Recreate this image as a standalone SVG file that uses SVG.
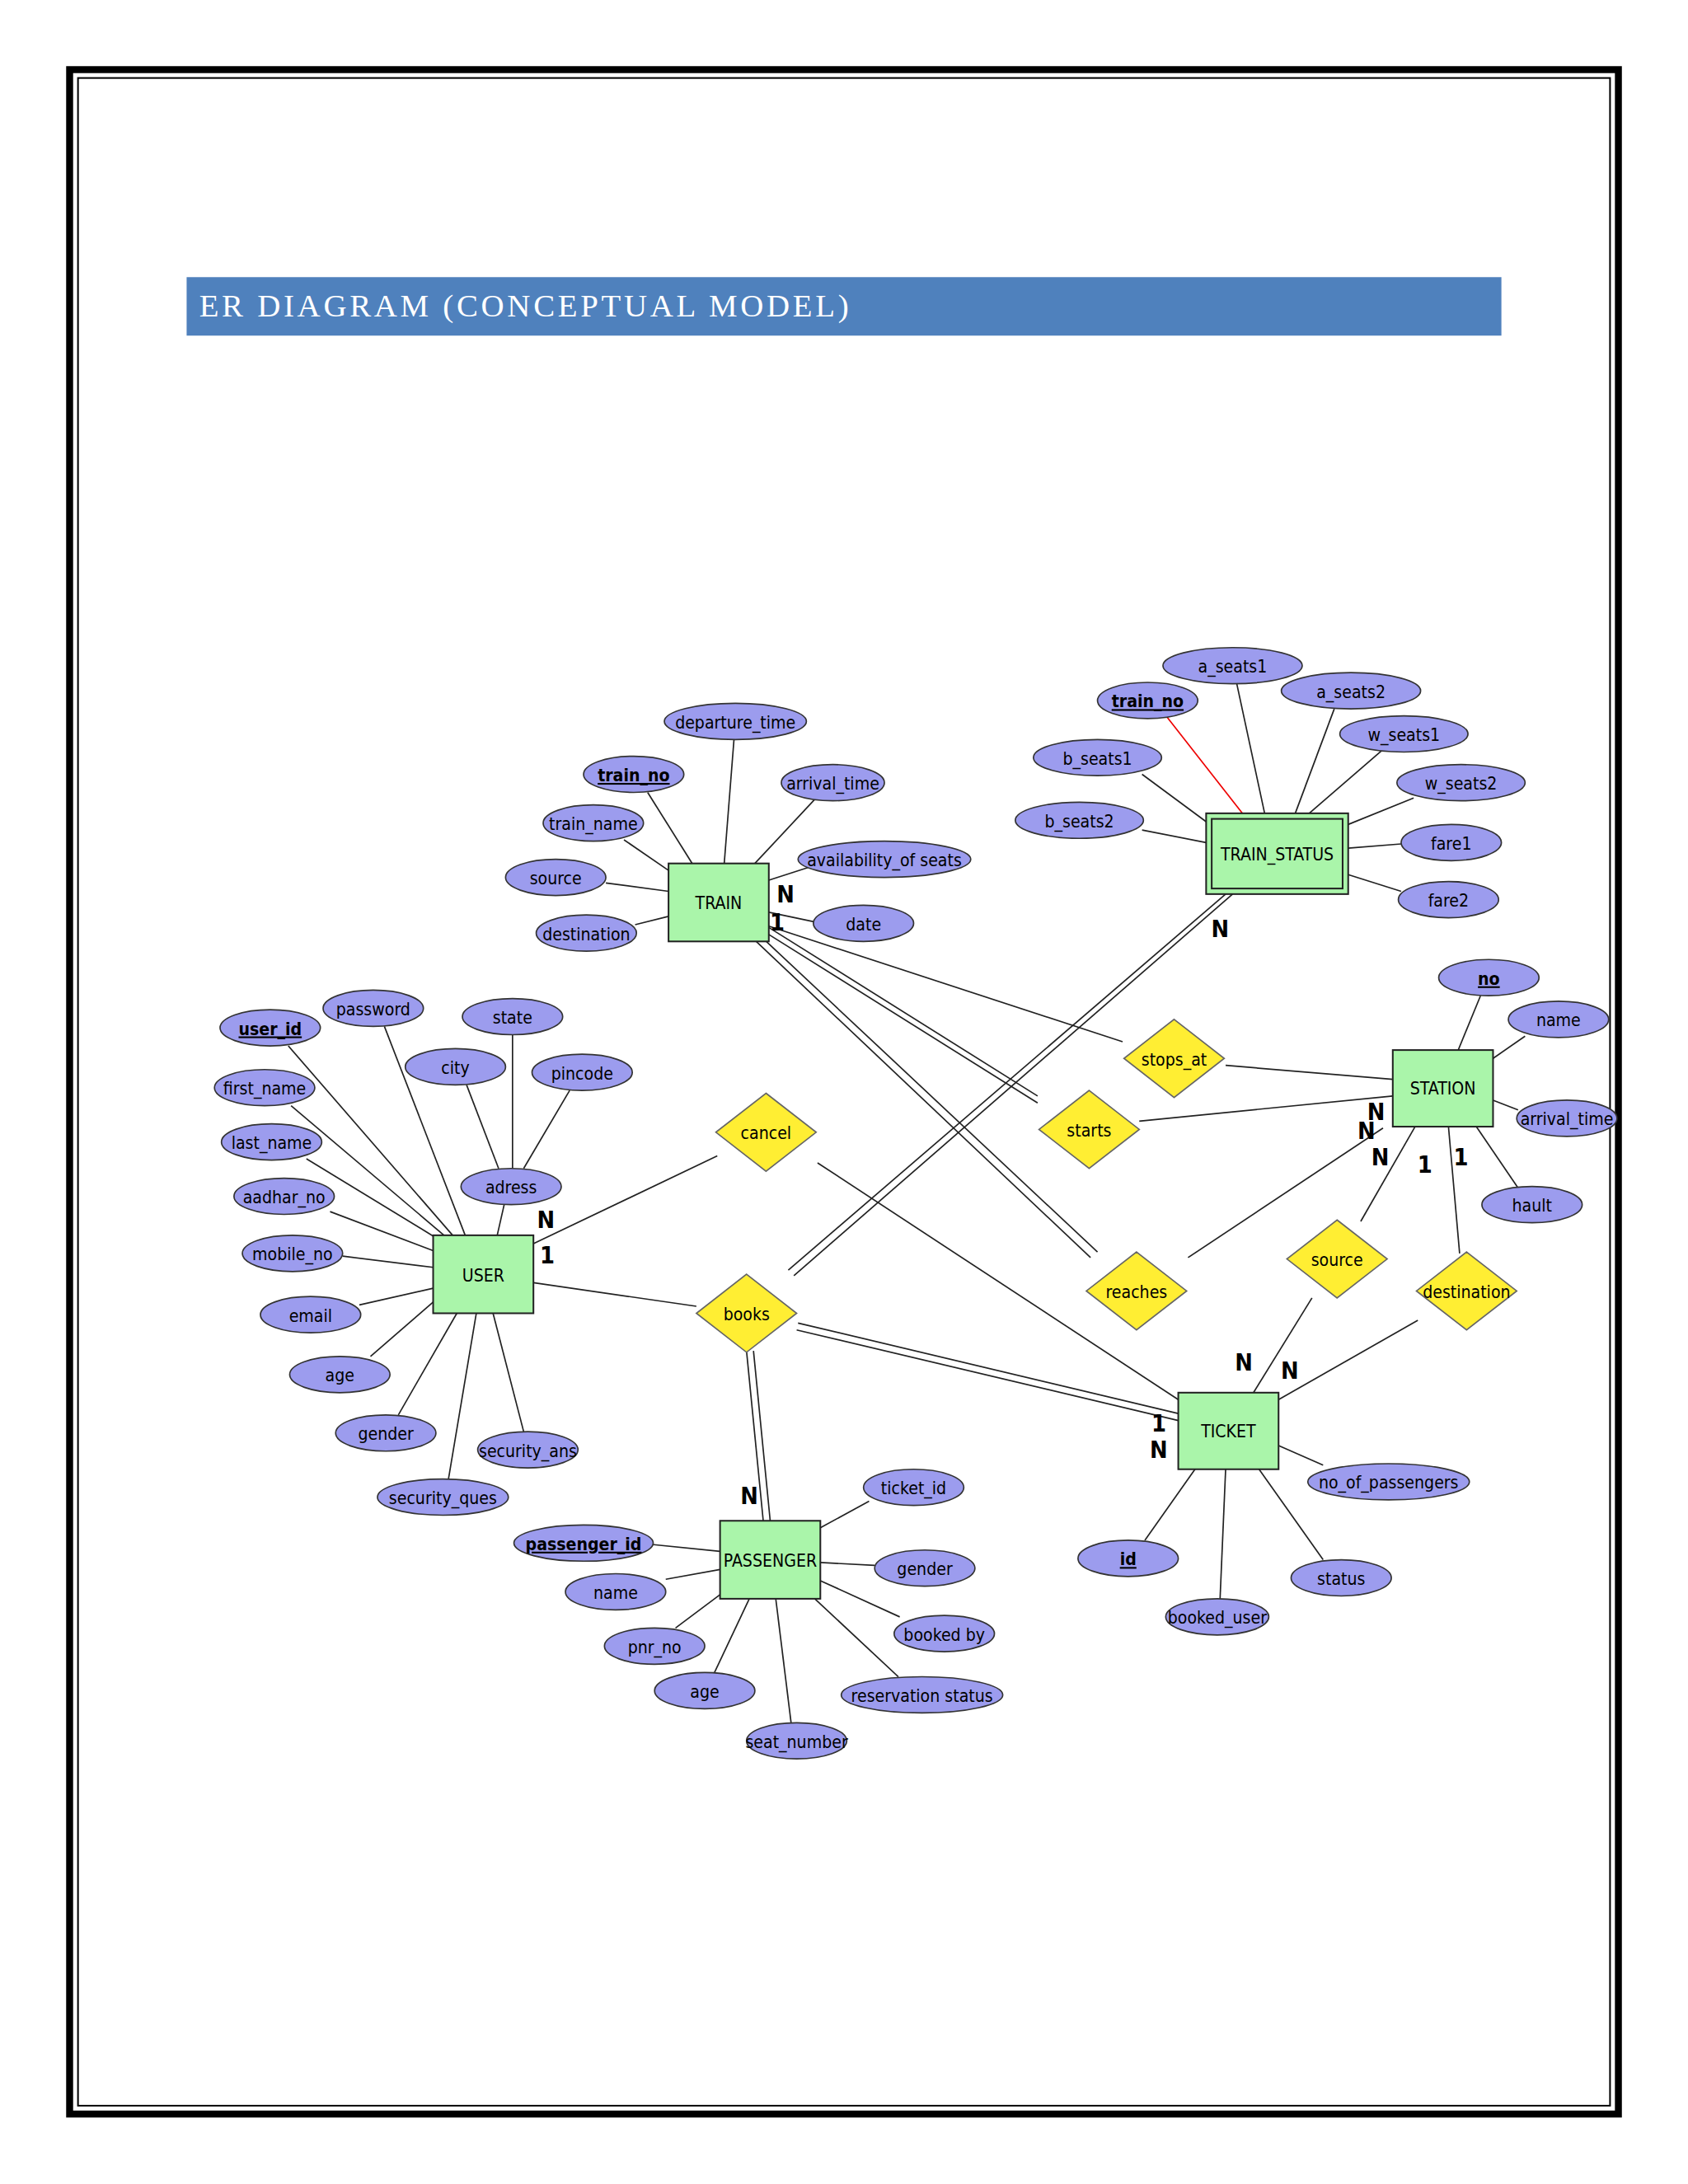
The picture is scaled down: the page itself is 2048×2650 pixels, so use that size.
<svg xmlns="http://www.w3.org/2000/svg" width="2048" height="2650" viewBox="0 0 2048 2650">
<style>
text{font-family:"DejaVu Sans Condensed","Liberation Sans Narrow","Liberation Sans",sans-serif;font-size:12.5px;text-anchor:middle;fill:#000}
.a ellipse{fill:#9C9CEE;stroke:#333;stroke-width:1}
.k text{font-weight:bold;text-decoration:underline}
.e rect{fill:#AAF5AA;stroke:#222;stroke-width:1.2}
.r polygon{fill:#FFEE33;stroke:#666;stroke-width:1}
.l line{stroke:#222;stroke-width:1}
.c text{font-weight:bold;font-size:17px;font-family:"DejaVu Sans Condensed","Liberation Sans",sans-serif}
</style>
<rect width="2048" height="2650" fill="#fff"/>
<g transform="scale(1.6898)">
<rect x="50" y="50" width="1112" height="1468" fill="none" stroke="#000" stroke-width="5"/>
<rect x="56" y="56" width="1100" height="1456" fill="none" stroke="#000" stroke-width="1.2"/>
<rect x="134" y="199" width="944" height="42" fill="#4F81BD"/>
<text x="143" y="227" style="font-family:'Liberation Serif',serif;font-size:23px;fill:#fff;text-anchor:start;letter-spacing:2.2px">ER DIAGRAM (CONCEPTUAL MODEL)</text>

<g id="connectors" class="l">
<line x1="520" y1="620" x2="527" y2="531"/><line x1="497" y1="620" x2="465" y2="569"/><line x1="542" y1="620" x2="585" y2="574"/>
<line x1="480" y1="625" x2="448" y2="603"/><line x1="552" y1="632" x2="580" y2="623"/><line x1="480" y1="640" x2="435" y2="634"/>
<line x1="552" y1="655" x2="585" y2="662"/><line x1="480" y1="658" x2="456" y2="664"/>
<line x1="908" y1="584" x2="888" y2="491"/><line x1="930" y1="584" x2="958" y2="509"/><line x1="892" y1="584" x2="838" y2="515" style="stroke:#e00"/>
<line x1="940" y1="584" x2="992" y2="539"/><line x1="866" y1="590" x2="820" y2="556"/><line x1="968" y1="592" x2="1015" y2="573"/>
<line x1="866" y1="605" x2="820" y2="596"/><line x1="968" y1="609" x2="1006" y2="606"/><line x1="968" y1="628" x2="1006" y2="640"/>
<line x1="1047" y1="754" x2="1063" y2="715"/><line x1="1072" y1="760" x2="1095" y2="744"/><line x1="1072" y1="790" x2="1090" y2="797"/><line x1="1060" y1="809" x2="1090" y2="853"/>
<line x1="334" y1="887" x2="276" y2="737"/><line x1="325" y1="887" x2="207" y2="751"/><line x1="320" y1="888" x2="209" y2="794"/>
<line x1="315" y1="890" x2="220" y2="832"/><line x1="311" y1="898" x2="237" y2="870"/><line x1="311" y1="910" x2="246" y2="902"/>
<line x1="311" y1="925" x2="258" y2="937"/><line x1="311" y1="935" x2="266" y2="974"/><line x1="328" y1="943" x2="286" y2="1016"/>
<line x1="342" y1="943" x2="322" y2="1062"/><line x1="354" y1="943" x2="376" y2="1028"/><line x1="357" y1="887" x2="362" y2="865"/>
<line x1="368" y1="743" x2="368" y2="839"/><line x1="335" y1="779" x2="358" y2="839"/><line x1="409" y1="783" x2="376" y2="839"/>
<line x1="918" y1="1038" x2="950" y2="1052"/><line x1="858" y1="1055" x2="822" y2="1106"/><line x1="880" y1="1055" x2="876" y2="1148"/><line x1="904" y1="1055" x2="950" y2="1120"/>
<line x1="589" y1="1097" x2="624" y2="1078"/><line x1="517" y1="1114" x2="468" y2="1109"/><line x1="589" y1="1122" x2="628" y2="1124"/>
<line x1="517" y1="1127" x2="478" y2="1134"/><line x1="589" y1="1135" x2="646" y2="1161"/><line x1="517" y1="1145" x2="485" y2="1169"/>
<line x1="585" y1="1148" x2="645" y2="1204"/><line x1="538" y1="1148" x2="513" y2="1201"/><line x1="557" y1="1148" x2="568" y2="1237"/>
<line x1="552" y1="665" x2="806" y2="748"/><line x1="880" y1="765" x2="1000" y2="775"/>
<line x1="552" y1="666" x2="745" y2="787"/><line x1="552" y1="671" x2="745" y2="792"/><line x1="818" y1="805" x2="1000" y2="787"/>
<line x1="543" y1="676" x2="783" y2="903"/><line x1="548" y1="674" x2="788" y2="899"/><line x1="853" y1="903" x2="993" y2="810"/>
<line x1="880" y1="642" x2="566" y2="912"/><line x1="885" y1="642" x2="570" y2="916"/>
<line x1="383" y1="893" x2="515" y2="830"/><line x1="587" y1="835" x2="846" y2="1005"/>
<line x1="383" y1="921" x2="500" y2="938"/>
<line x1="573" y1="950" x2="846" y2="1015"/><line x1="572" y1="955" x2="846" y2="1020"/>
<line x1="536" y1="970" x2="548" y2="1092"/><line x1="541" y1="970" x2="553" y2="1092"/>
<line x1="977" y1="877" x2="1016" y2="809"/><line x1="942" y1="932" x2="900" y2="1000"/>
<line x1="1048" y1="900" x2="1040" y2="809"/><line x1="1018" y1="948" x2="918" y2="1005"/>
</g>

<g class="e">
<g id="TRAIN"><rect x="480" y="620" width="72" height="56"/><text x="516" y="653">TRAIN</text></g>
<g id="TRAIN_STATUS"><rect x="866" y="584" width="102" height="58"/><rect x="870" y="588" width="94" height="50"/><text x="917" y="618">TRAIN_STATUS</text></g>
<g id="STATION"><rect x="1000" y="754" width="72" height="55"/><text x="1036" y="786">STATION</text></g>
<g id="USER"><rect x="311" y="887" width="72" height="56"/><text x="347" y="920">USER</text></g>
<g id="TICKET"><rect x="846" y="1000" width="72" height="55"/><text x="882" y="1032">TICKET</text></g>
<g id="PASSENGER"><rect x="517" y="1092" width="72" height="56"/><text x="553" y="1125">PASSENGER</text></g>
</g>

<g class="r">
<g id="stops_at"><polygon points="843,732 879,760 843,788 807,760"/><text x="843" y="765">stops_at</text></g>
<g id="starts"><polygon points="782,783 818,811 782,839 746,811"/><text x="782" y="816">starts</text></g>
<g id="cancel"><polygon points="550,785 586,813 550,841 514,813"/><text x="550" y="818">cancel</text></g>
<g id="reaches"><polygon points="816,899 852,927 816,955 780,927"/><text x="816" y="932">reaches</text></g>
<g id="source"><polygon points="960,876 996,904 960,932 924,904"/><text x="960" y="909">source</text></g>
<g id="destination"><polygon points="1053,899 1089,927 1053,955 1017,927"/><text x="1053" y="932">destination</text></g>
<g id="books"><polygon points="536,915 572,943 536,971 500,943"/><text x="536" y="948">books</text></g>
</g>

<g class="a">
<g id="a_departure_time"><ellipse cx="528" cy="518" rx="51" ry="13"/><text x="528" y="523">departure_time</text></g>
<g id="a_train_no1" class="k"><ellipse cx="455" cy="556" rx="36" ry="13"/><text x="455" y="561">train_no</text></g>
<g id="a_arrival_time"><ellipse cx="598" cy="562" rx="37" ry="13"/><text x="598" y="567">arrival_time</text></g>
<g id="a_train_name"><ellipse cx="426" cy="591" rx="36" ry="13"/><text x="426" y="596">train_name</text></g>
<g id="a_avail"><ellipse cx="635" cy="617" rx="62" ry="13"/><text x="635" y="622">availability_of seats</text></g>
<g id="a_source"><ellipse cx="399" cy="630" rx="36" ry="13"/><text x="399" y="635">source</text></g>
<g id="a_date"><ellipse cx="620" cy="663" rx="36" ry="13"/><text x="620" y="668">date</text></g>
<g id="a_destination"><ellipse cx="421" cy="670" rx="36" ry="13"/><text x="421" y="675">destination</text></g>

<g id="a_a_seats1"><ellipse cx="885" cy="478" rx="50" ry="13"/><text x="885" y="483">a_seats1</text></g>
<g id="a_a_seats2"><ellipse cx="970" cy="496" rx="50" ry="13"/><text x="970" y="501">a_seats2</text></g>
<g id="a_train_no2" class="k"><ellipse cx="824" cy="503" rx="36" ry="13"/><text x="824" y="508">train_no</text></g>
<g id="a_w_seats1"><ellipse cx="1008" cy="527" rx="46" ry="13"/><text x="1008" y="532">w_seats1</text></g>
<g id="a_b_seats1"><ellipse cx="788" cy="544" rx="46" ry="13"/><text x="788" y="549">b_seats1</text></g>
<g id="a_w_seats2"><ellipse cx="1049" cy="562" rx="46" ry="13"/><text x="1049" y="567">w_seats2</text></g>
<g id="a_b_seats2"><ellipse cx="775" cy="589" rx="46" ry="13"/><text x="775" y="594">b_seats2</text></g>
<g id="a_fare1"><ellipse cx="1042" cy="605" rx="36" ry="13"/><text x="1042" y="610">fare1</text></g>
<g id="a_fare2"><ellipse cx="1040" cy="646" rx="36" ry="13"/><text x="1040" y="651">fare2</text></g>

<g id="a_no" class="k"><ellipse cx="1069" cy="702" rx="36" ry="13"/><text x="1069" y="707">no</text></g>
<g id="a_name_st"><ellipse cx="1119" cy="732" rx="36" ry="13"/><text x="1119" y="737">name</text></g>
<g id="a_arrival_st"><ellipse cx="1125" cy="803" rx="36" ry="13"/><text x="1125" y="808">arrival_time</text></g>
<g id="a_hault"><ellipse cx="1100" cy="865" rx="36" ry="13"/><text x="1100" y="870">hault</text></g>

<g id="a_password"><ellipse cx="268" cy="724" rx="36" ry="13"/><text x="268" y="729">password</text></g>
<g id="a_user_id" class="k"><ellipse cx="194" cy="738" rx="36" ry="13"/><text x="194" y="743">user_id</text></g>
<g id="a_state"><ellipse cx="368" cy="730" rx="36" ry="13"/><text x="368" y="735">state</text></g>
<g id="a_city"><ellipse cx="327" cy="766" rx="36" ry="13"/><text x="327" y="771">city</text></g>
<g id="a_pincode"><ellipse cx="418" cy="770" rx="36" ry="13"/><text x="418" y="775">pincode</text></g>
<g id="a_first_name"><ellipse cx="190" cy="781" rx="36" ry="13"/><text x="190" y="786">first_name</text></g>
<g id="a_last_name"><ellipse cx="195" cy="820" rx="36" ry="13"/><text x="195" y="825">last_name</text></g>
<g id="a_adress"><ellipse cx="367" cy="852" rx="36" ry="13"/><text x="367" y="857">adress</text></g>
<g id="a_aadhar"><ellipse cx="204" cy="859" rx="36" ry="13"/><text x="204" y="864">aadhar_no</text></g>
<g id="a_mobile"><ellipse cx="210" cy="900" rx="36" ry="13"/><text x="210" y="905">mobile_no</text></g>
<g id="a_email"><ellipse cx="223" cy="944" rx="36" ry="13"/><text x="223" y="949">email</text></g>
<g id="a_age_u"><ellipse cx="244" cy="987" rx="36" ry="13"/><text x="244" y="992">age</text></g>
<g id="a_gender_u"><ellipse cx="277" cy="1029" rx="36" ry="13"/><text x="277" y="1034">gender</text></g>
<g id="a_sec_ans"><ellipse cx="379" cy="1041" rx="36" ry="13"/><text x="379" y="1046">security_ans</text></g>
<g id="a_sec_ques"><ellipse cx="318" cy="1075" rx="47" ry="13"/><text x="318" y="1080">security_ques</text></g>

<g id="a_nop"><ellipse cx="997" cy="1064" rx="58" ry="13"/><text x="997" y="1069">no_of_passengers</text></g>
<g id="a_id" class="k"><ellipse cx="810" cy="1119" rx="36" ry="13"/><text x="810" y="1124">id</text></g>
<g id="a_status"><ellipse cx="963" cy="1133" rx="36" ry="13"/><text x="963" y="1138">status</text></g>
<g id="a_booked_user"><ellipse cx="874" cy="1161" rx="37" ry="13"/><text x="874" y="1166">booked_user</text></g>

<g id="a_ticket_id"><ellipse cx="656" cy="1068" rx="36" ry="13"/><text x="656" y="1073">ticket_id</text></g>
<g id="a_passenger_id" class="k"><ellipse cx="419" cy="1108" rx="50" ry="13"/><text x="419" y="1113">passenger_id</text></g>
<g id="a_gender_p"><ellipse cx="664" cy="1126" rx="36" ry="13"/><text x="664" y="1131">gender</text></g>
<g id="a_name_p"><ellipse cx="442" cy="1143" rx="36" ry="13"/><text x="442" y="1148">name</text></g>
<g id="a_booked_by"><ellipse cx="678" cy="1173" rx="36" ry="13"/><text x="678" y="1178">booked by</text></g>
<g id="a_pnr"><ellipse cx="470" cy="1182" rx="36" ry="13"/><text x="470" y="1187">pnr_no</text></g>
<g id="a_res"><ellipse cx="662" cy="1217" rx="58" ry="13"/><text x="662" y="1222">reservation status</text></g>
<g id="a_age_p"><ellipse cx="506" cy="1214" rx="36" ry="13"/><text x="506" y="1219">age</text></g>
<g id="a_seat"><ellipse cx="572" cy="1250" rx="36" ry="13"/><text x="572" y="1255">seat_number</text></g>
</g>

<g class="c">
<text x="564" y="648">N</text><text x="558" y="668">1</text>
<text x="876" y="673">N</text>
<text x="988" y="804">N</text><text x="981" y="818">N</text><text x="991" y="837">N</text><text x="1023" y="842">1</text><text x="1049" y="837">1</text>
<text x="392" y="882">N</text><text x="393" y="907">1</text>
<text x="893" y="984">N</text><text x="926" y="990">N</text>
<text x="832" y="1028">1</text><text x="832" y="1047">N</text>
<text x="538" y="1080">N</text>
</g>
</g>
</svg>
